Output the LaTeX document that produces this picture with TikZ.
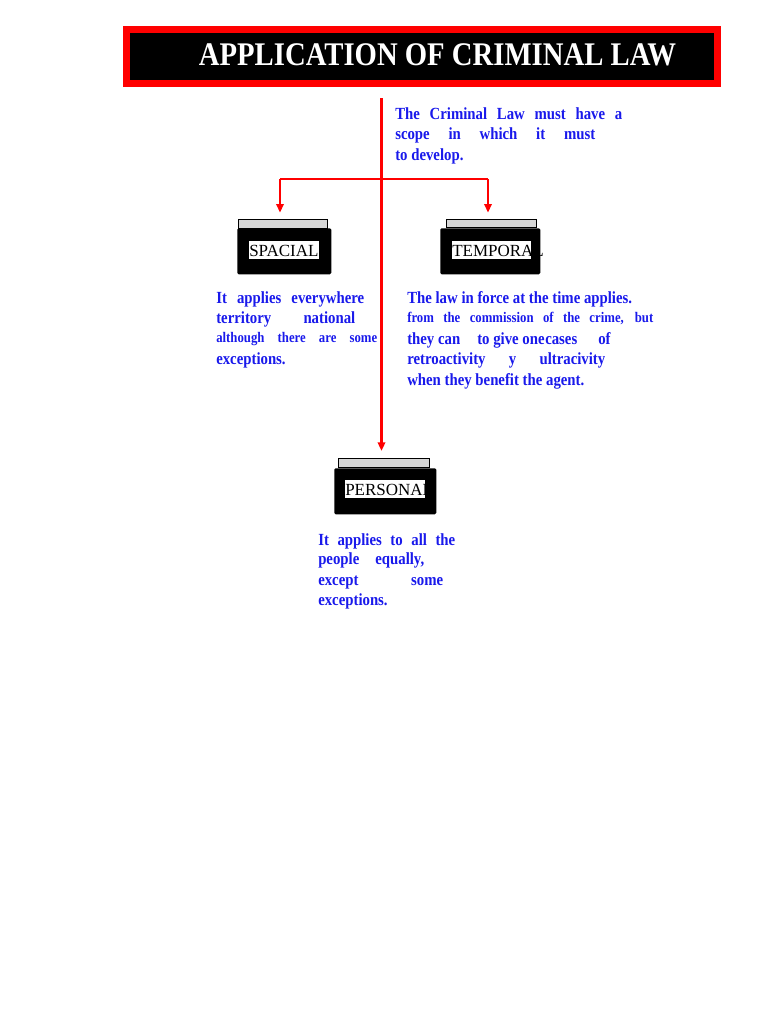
\documentclass[tikz,border=0pt]{standalone}
\usepackage{fontspec}
\setmainfont{Liberation Serif}
\newfontfamily\condfont[FakeStretch=0.87]{Liberation Serif}
\usetikzlibrary{arrows.meta}
\newdimen\pxu \pxu=0.75pt
\definecolor{txtblue}{RGB}{25,25,235}
\definecolor{tabgray}{RGB}{215,215,215}
\begin{document}
\begin{tikzpicture}[x=0.75pt,y=-0.75pt,
  body/.style={inner sep=0pt,anchor=base west,text=txtblue,font=\condfont\bfseries\fontsize{12.75}{15}\selectfont},
  small/.style={body,font=\condfont\bfseries\fontsize{11}{13}\selectfont},
  redline/.style={draw=red,line width=1.9pt},
  redarrow/.style={redline,-{Triangle[length=6.5pt,width=5.5pt]}},
  tabbox/.style={fill=tabgray,draw=black,line width=0.5pt,inner sep=0pt,anchor=south west},
  blackbox/.style={fill=black,rounded corners=1pt,inner sep=0pt,anchor=north west},
  strip/.style={fill=white,inner sep=0pt,anchor=north west},
  lbl/.style={inner sep=0pt,anchor=base west,text=black,font=\fontsize{12.75}{15}\selectfont}
]
\useasboundingbox (0,0) rectangle (768,1024);

% title
\node (titleframe) [fill=red,inner sep=0pt,anchor=north west,minimum width=598\pxu,minimum height=61\pxu] at (123,26) {};
\node (titleback) [fill=black,inner sep=0pt,anchor=north west,minimum width=584\pxu,minimum height=47\pxu] at (130,33) {};
\node (title) [inner sep=0pt,anchor=base,text=white,font=\condfont\bfseries\fontsize{24.75}{28}\selectfont] at (437.5,65) {APPLICATION OF CRIMINAL LAW};

% boxes
\node (spacialtab) [tabbox,minimum width=89\pxu,minimum height=9\pxu] at (238,229) {};
\node (spacial) [blackbox,minimum width=94\pxu,minimum height=46\pxu] at (237,228) {};
\node (spacialstrip) [strip,minimum width=70\pxu,minimum height=18\pxu] at (249,241) {};
\node (spaciallbl) [lbl] at (249,256) {SPACIAL};

\node (temporaltab) [tabbox,minimum width=90\pxu,minimum height=8\pxu] at (446,228) {};
\node (temporal) [blackbox,minimum width=100\pxu,minimum height=46\pxu] at (440,228) {};
\node (temporalstrip) [strip,minimum width=79\pxu,minimum height=18\pxu] at (452,241) {};
\node (temporallbl) [lbl] at (452,256) {TEMPORAL};

\node (personaltab) [tabbox,minimum width=91\pxu,minimum height=9\pxu] at (338,468) {};
\node (personal) [blackbox,minimum width=102\pxu,minimum height=46\pxu] at (334,468) {};
\node (personalstrip) [strip,minimum width=80\pxu,minimum height=18\pxu] at (345,480) {};
\node (personallbl) [lbl] at (345,495) {PERSONAL};

% connectors
\coordinate (top) at (381.5,98);
\coordinate (jl) at (280,179);
\coordinate (jr) at (488,179);
\draw[redline] (jl) -- (jr);
\draw[redarrow,shorten >=5.5pt] (top) -- (top|-personaltab.north);
\draw[redarrow,shorten >=5pt] (jl) -- (jl|-spacialtab.north);
\draw[redarrow,shorten >=5pt] (jr) -- (jr|-temporaltab.north);

% top text
\node (t1) [body] at (395,119) {\makebox[227\pxu][s]{The Criminal Law must have a}};
\node (t2) [body] at (395,139) {\makebox[200\pxu][s]{scope in which it must}};
\node (t3) [body] at (395,160) {to develop.};

% left text
\node (s1) [body] at (216,303) {\makebox[148\pxu][s]{It applies everywhere}};
\node (s2) [body] at (216,323) {\makebox[139\pxu][s]{territory national}};
\node (s3) [small] at (216,342) {\makebox[161\pxu][s]{although there are some}};
\node (s4) [body] at (216,364) {exceptions.};

% right text
\node (r1) [body] at (407,303) {The law in force at the time applies.};
\node (r2) [small] at (407,322) {\makebox[246\pxu][s]{from the commission of the crime, but}};
\node (r3a) [body] at (407,344) {they can};
\node (r3b) [body] at (477,344) {to give one};
\node (r3c) [body] at (545,344) {cases};
\node (r3d) [body] at (598,344) {of};
\node (r4) [body] at (407,364) {\makebox[198\pxu][s]{retroactivity y ultracivity}};
\node (r5) [body] at (407,385) {when they benefit the agent.};

% bottom text
\node (p1) [body] at (318,545) {\makebox[137\pxu][s]{It applies to all the}};
\node (p2) [body] at (318,564) {\makebox[106\pxu][s]{people equally,}};
\node (p3) [body] at (318,585) {\makebox[125\pxu][s]{except some}};
\node (p4) [body] at (318,605) {exceptions.};
\end{tikzpicture}
\end{document}
